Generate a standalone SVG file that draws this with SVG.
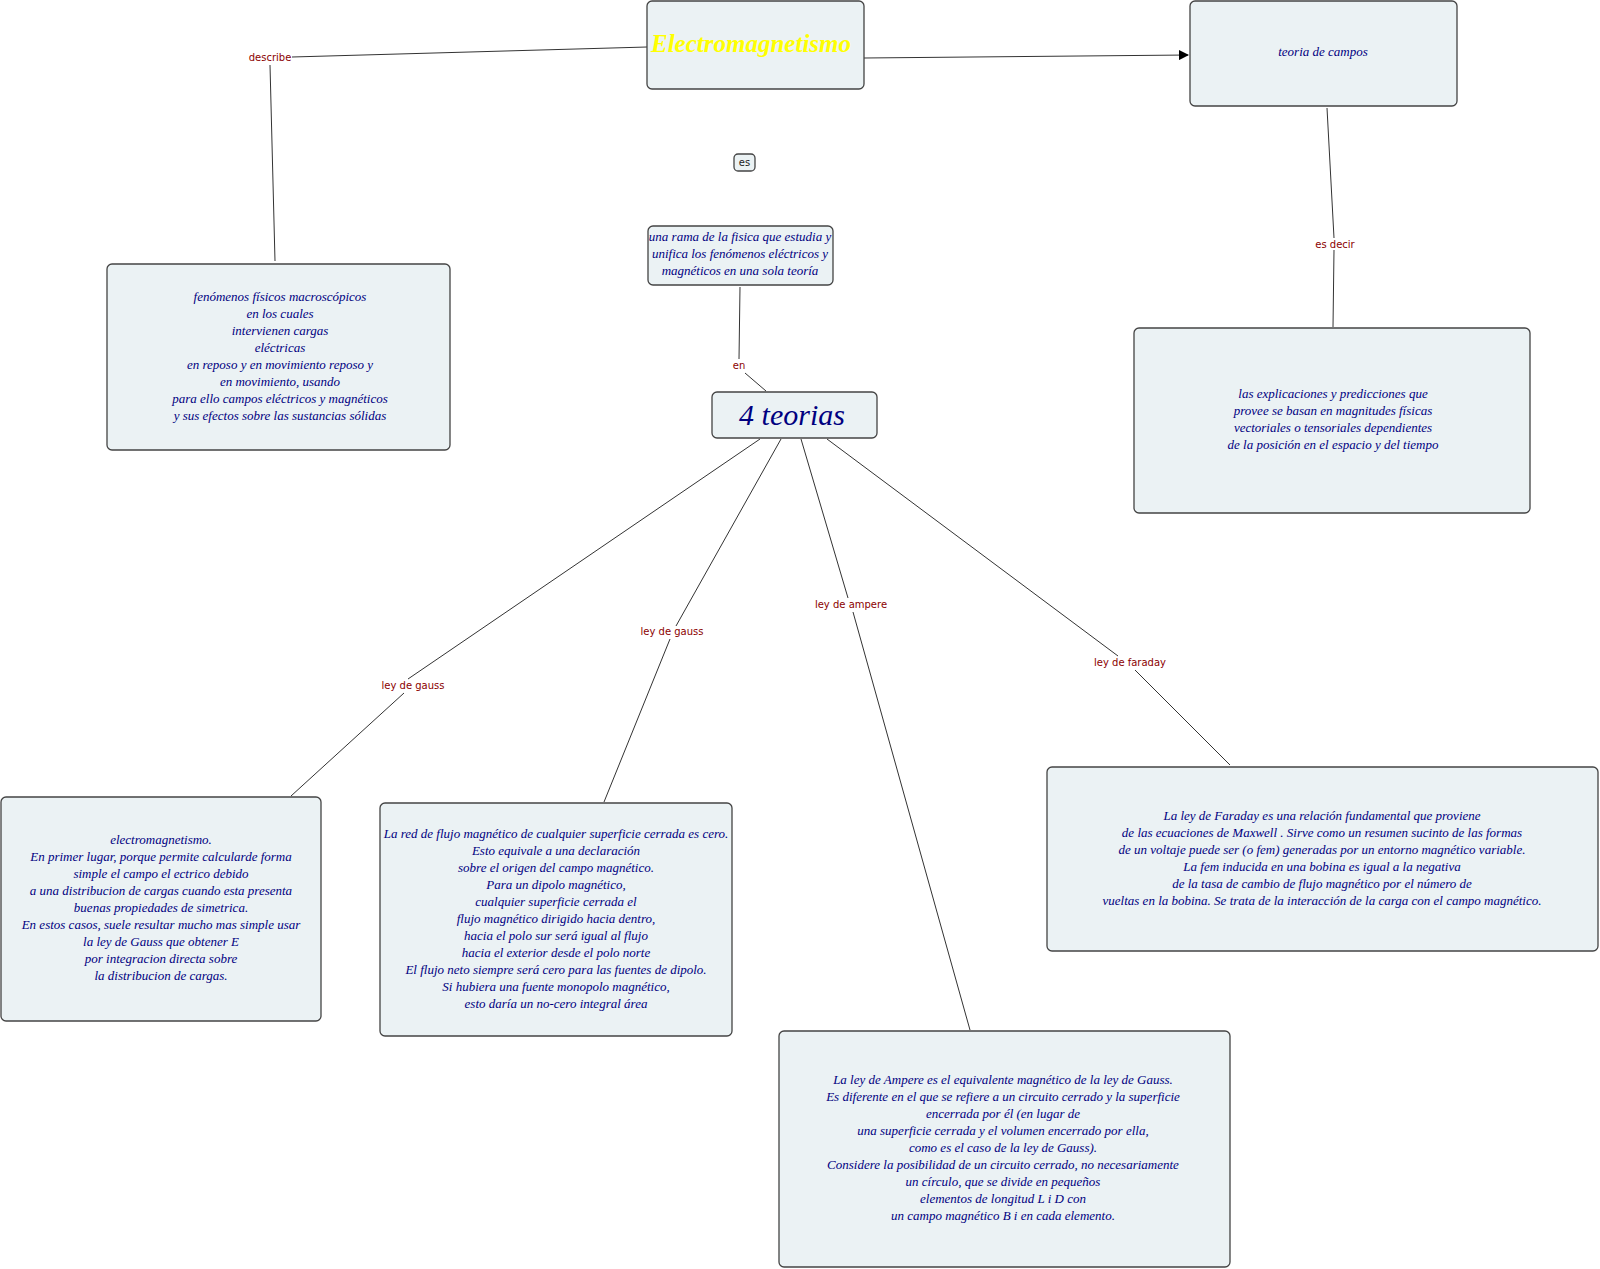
<svg xmlns="http://www.w3.org/2000/svg" width="1600" height="1269" viewBox="0 0 1600 1269">
<style>
.n{fill:#ebf2f4;stroke:#444;stroke-width:1.3}
.t{font-family:"Liberation Serif",serif;font-style:italic;font-size:13px;fill:#000080;text-anchor:middle}
.l{font-family:"DejaVu Sans",sans-serif;font-size:10px;fill:#8b0000;text-anchor:middle}
.c{stroke:#333;stroke-width:1;fill:none}
</style>
<defs><marker id="a" markerWidth="10" markerHeight="10" refX="9" refY="5" orient="auto" markerUnits="userSpaceOnUse"><path d="M0,0L10,5L0,10z" fill="#000"/></marker></defs>
<rect width="1600" height="1269" fill="#fff"/>
<g id="connectors">
<polyline class="c" points="647,47 292,57"/>
<polyline class="c" points="270,65 275,261"/>
<text class="l" x="270" y="61">describe</text>
<line class="c" x1="864" y1="58" x2="1188" y2="55" marker-end="url(#a)"/>
<polyline class="c" points="1327,108 1334,238"/>
<polyline class="c" points="1334,250 1333,327"/>
<text class="l" x="1335" y="248">es decir</text>
<polyline class="c" points="740,287 739,359"/>
<polyline class="c" points="745,373 766,391"/>
<text class="l" x="739" y="369">en</text>
<polyline class="c" points="760,439 408,679"/>
<polyline class="c" points="404,693 291,796"/>
<text class="l" x="413" y="689">ley de gauss</text>
<polyline class="c" points="781,439 676,626"/>
<polyline class="c" points="670,639 604,802"/>
<text class="l" x="672" y="635">ley de gauss</text>
<polyline class="c" points="801,439 848,598"/>
<polyline class="c" points="853,612 970,1030"/>
<text class="l" x="851" y="608">ley de ampere</text>
<polyline class="c" points="827,439 1118,656"/>
<polyline class="c" points="1135,670 1230,765"/>
<text class="l" x="1130" y="666">ley de faraday</text>
</g>
<g id="electromagnetismo"><rect class="n" x="647" y="1" width="217" height="88" rx="5"/>
<text x="751" y="52" style="font-family:'Liberation Serif',serif;font-style:italic;font-weight:bold;font-size:25px;fill:#ffff00;text-anchor:middle">Electromagnetismo</text></g>
<g id="es"><rect class="n" x="734" y="154" width="21" height="17" rx="4"/><text x="744.5" y="166" style="font-family:'DejaVu Sans',sans-serif;font-size:10px;fill:#222;text-anchor:middle">es</text></g>
<g id="teoria-campos"><rect class="n" x="1190" y="1" width="267" height="105" rx="5"/><text class="t" x="1323" y="56">teoria de campos</text></g>
<g id="rama"><rect class="n" x="648" y="226" width="185" height="59" rx="5"/>
<text class="t" x="740" y="241"><tspan x="740">una rama de la fisica que estudia y</tspan><tspan x="740" dy="17">unifica los fenómenos eléctricos y</tspan><tspan x="740" dy="17">magnéticos en una sola teoría</tspan></text></g>
<g id="fenomenos"><rect class="n" x="107" y="264" width="343" height="186" rx="5"/>
<text class="t" x="280" y="301"><tspan x="280">fenómenos físicos macroscópicos</tspan><tspan x="280" dy="17">en los cuales</tspan><tspan x="280" dy="17">intervienen cargas</tspan><tspan x="280" dy="17">eléctricas</tspan><tspan x="280" dy="17">en reposo y en movimiento reposo y</tspan><tspan x="280" dy="17">en movimiento, usando</tspan><tspan x="280" dy="17">para ello campos eléctricos y magnéticos</tspan><tspan x="280" dy="17">y sus efectos sobre las sustancias sólidas</tspan></text></g>
<g id="teorias"><rect class="n" x="712" y="392" width="165" height="46" rx="5"/><text x="792" y="425" style="font-family:'Liberation Serif',serif;font-style:italic;font-size:30px;fill:#000080;text-anchor:middle">4 teorias</text></g>
<g id="explicaciones"><rect class="n" x="1134" y="328" width="396" height="185" rx="5"/>
<text class="t" x="1333" y="398"><tspan x="1333">las explicaciones y predicciones que</tspan><tspan x="1333" dy="17">provee se basan en magnitudes físicas</tspan><tspan x="1333" dy="17">vectoriales o tensoriales dependientes</tspan><tspan x="1333" dy="17">de la posición en el espacio y del tiempo</tspan></text></g>
<g id="gauss1"><rect class="n" x="1" y="797" width="320" height="224" rx="5"/>
<text class="t" x="161" y="844"><tspan x="161">electromagnetismo.</tspan><tspan x="161" dy="17">En primer lugar, porque permite calcularde forma</tspan><tspan x="161" dy="17">simple el campo el ectrico debido</tspan><tspan x="161" dy="17">a una distribucion de cargas cuando esta presenta</tspan><tspan x="161" dy="17">buenas propiedades de simetrica.</tspan><tspan x="161" dy="17">En estos casos, suele resultar mucho mas simple usar</tspan><tspan x="161" dy="17">la ley de Gauss que obtener E</tspan><tspan x="161" dy="17">por integracion directa sobre</tspan><tspan x="161" dy="17">la distribucion de cargas.</tspan></text></g>
<g id="gauss2"><rect class="n" x="380" y="803" width="352" height="233" rx="5"/>
<text class="t" x="556" y="838"><tspan x="556">La red de flujo magnético de cualquier superficie cerrada es cero.</tspan><tspan x="556" dy="17">Esto equivale a una declaración</tspan><tspan x="556" dy="17">sobre el origen del campo magnético.</tspan><tspan x="556" dy="17">Para un dipolo magnético,</tspan><tspan x="556" dy="17">cualquier superficie cerrada el</tspan><tspan x="556" dy="17">flujo magnético dirigido hacia dentro,</tspan><tspan x="556" dy="17">hacia el polo sur será igual al flujo</tspan><tspan x="556" dy="17">hacia el exterior desde el polo norte</tspan><tspan x="556" dy="17">El flujo neto siempre será cero para las fuentes de dipolo.</tspan><tspan x="556" dy="17">Si hubiera una fuente monopolo magnético,</tspan><tspan x="556" dy="17">esto daría un no-cero integral área</tspan></text></g>
<g id="faraday"><rect class="n" x="1047" y="767" width="551" height="184" rx="5"/>
<text class="t" x="1322" y="820"><tspan x="1322">La ley de Faraday es una relación fundamental que proviene</tspan><tspan x="1322" dy="17">de las ecuaciones de Maxwell . Sirve como un resumen sucinto de las formas</tspan><tspan x="1322" dy="17">de un voltaje puede ser (o fem) generadas por un entorno magnético variable.</tspan><tspan x="1322" dy="17">La fem inducida en una bobina es igual a la negativa</tspan><tspan x="1322" dy="17">de la tasa de cambio de flujo magnético por el número de</tspan><tspan x="1322" dy="17">vueltas en la bobina. Se trata de la interacción de la carga con el campo magnético.</tspan></text></g>
<g id="ampere"><rect class="n" x="779" y="1031" width="451" height="236" rx="5"/>
<text class="t" x="1003" y="1084"><tspan x="1003">La ley de Ampere es el equivalente magnético de la ley de Gauss.</tspan><tspan x="1003" dy="17">Es diferente en el que se refiere a un circuito cerrado y la superficie</tspan><tspan x="1003" dy="17">encerrada por él (en lugar de</tspan><tspan x="1003" dy="17">una superficie cerrada y el volumen encerrado por ella,</tspan><tspan x="1003" dy="17">como es el caso de la ley de Gauss).</tspan><tspan x="1003" dy="17">Considere la posibilidad de un circuito cerrado, no necesariamente</tspan><tspan x="1003" dy="17">un círculo, que se divide en pequeños</tspan><tspan x="1003" dy="17">elementos de longitud L i D con</tspan><tspan x="1003" dy="17">un campo magnético B i en cada elemento.</tspan></text></g>
</svg>
